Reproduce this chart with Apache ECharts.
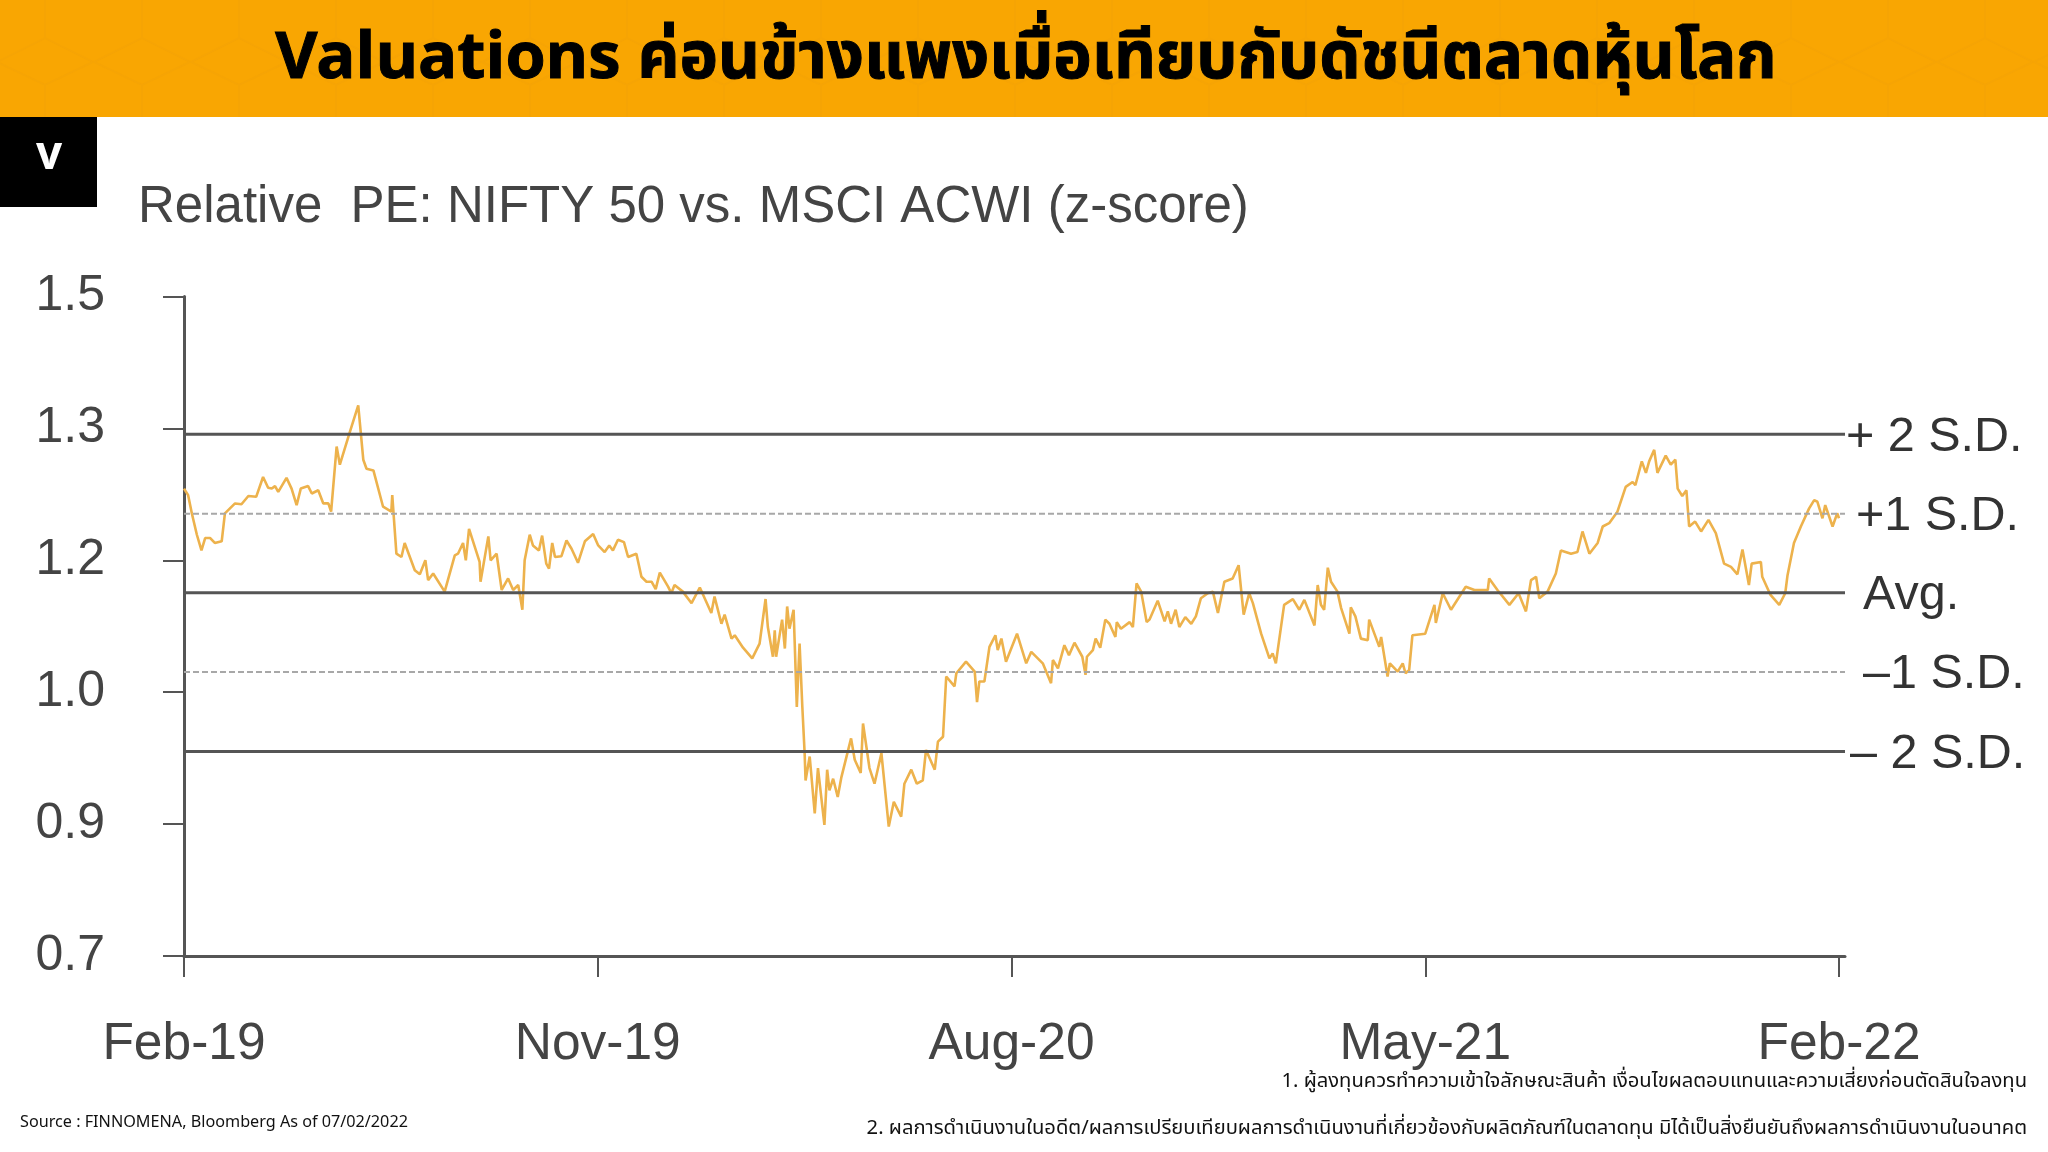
<!DOCTYPE html>
<html>
<head>
    <meta charset="utf-8">
    <title>Relative PE</title>
    <script src="https://cdn.jsdelivr.net/npm/echarts@6/dist/echarts.min.js"></script>
    <style>
        html, body { margin: 0; padding: 0; background: #fff; }
        #chart { width: 2048px; height: 1152px; }
    </style>
</head>
<body>
<div id="chart"></div>
<script type="text/javascript">
    var bannerTitle = 'Valuations ค่อนข้างแพงเมื่อเทียบกับดัชนีตลาดหุ้นโลก';
    var chartTitle = 'Relative  PE: NIFTY 50 vs. MSCI ACWI (z-score)';
    var sourceText = 'Source : FINNOMENA, Bloomberg As of 07/02/2022';
    var note1 = '1. ผู้ลงทุนควรทำความเข้าใจลักษณะสินค้า เงื่อนไขผลตอบแทนและความเสี่ยงก่อนตัดสินใจลงทุน';
    var note2 = '2. ผลการดำเนินงานในอดีต/ผลการเปรียบเทียบผลการดำเนินงานที่เกี่ยวข้องกับผลิตภัณฑ์ในตลาดทุน มิได้เป็นสิ่งยืนยันถึงผลการดำเนินงานในอนาคต';

    var xTickMonths = [0, 9, 18, 27, 36];
    var xTickLabels = ['Feb-19', 'Nov-19', 'Aug-20', 'May-21', 'Feb-22'];
    var yTickValues = [0.7, 0.86, 1.02, 1.18, 1.34, 1.5];
    var yTickLabels = ['0.7', '0.9', '1.0', '1.2', '1.3', '1.5'];

    var sdLevels = [1.3328, 1.2366, 1.1405, 1.0444, 0.9482];
    var sdNames = ['+ 2 S.D.', '+1 S.D.', 'Avg.', '–1 S.D.', '– 2 S.D.'];

    // [months since Feb-19, z-score]
    var pePoints = [
        [0.00,1.267],[0.09,1.259],[0.17,1.237],[0.28,1.211],[0.38,1.192],[0.46,1.207],[0.57,1.207],[0.67,1.201],
        [0.82,1.203],[0.89,1.237],[1.11,1.249],[1.25,1.248],[1.40,1.258],[1.57,1.257],[1.72,1.281],[1.83,1.268],
        [1.91,1.267],[1.98,1.270],[2.05,1.263],[2.23,1.280],[2.34,1.267],[2.45,1.247],[2.54,1.267],[2.70,1.270],
        [2.78,1.261],[2.92,1.265],[3.03,1.249],[3.14,1.249],[3.20,1.239],[3.32,1.318],[3.39,1.296],[3.61,1.336],
        [3.79,1.368],[3.90,1.302],[3.97,1.291],[4.12,1.289],[4.33,1.245],[4.51,1.239],[4.53,1.259],[4.62,1.188],
        [4.73,1.184],[4.80,1.201],[5.02,1.168],[5.13,1.163],[5.25,1.180],[5.31,1.156],[5.42,1.164],[5.67,1.142],
        [5.89,1.186],[5.96,1.188],[6.07,1.201],[6.13,1.180],[6.20,1.218],[6.43,1.178],[6.45,1.154],[6.62,1.209],
        [6.67,1.180],[6.80,1.188],[6.91,1.144],[7.05,1.158],[7.16,1.144],[7.27,1.150],[7.36,1.120],[7.41,1.180],
        [7.52,1.211],[7.59,1.198],[7.72,1.192],[7.79,1.210],[7.88,1.176],[7.94,1.170],[8.01,1.201],[8.07,1.184],
        [8.21,1.185],[8.32,1.204],[8.43,1.194],[8.57,1.177],[8.72,1.203],[8.90,1.212],[9.01,1.198],[9.15,1.190],
        [9.25,1.198],[9.33,1.192],[9.44,1.205],[9.57,1.202],[9.66,1.184],[9.84,1.188],[9.95,1.160],[10.06,1.154],
        [10.17,1.154],[10.26,1.145],[10.35,1.165],[10.53,1.148],[10.60,1.140],[10.67,1.150],[10.85,1.142],[11.04,1.128],
        [11.22,1.147],[11.47,1.116],[11.54,1.136],[11.69,1.103],[11.76,1.114],[11.91,1.085],[11.98,1.089],[12.16,1.074],
        [12.36,1.061],[12.52,1.079],[12.65,1.133],[12.70,1.099],[12.81,1.063],[12.85,1.095],[12.88,1.063],[13.01,1.108],
        [13.07,1.073],[13.12,1.124],[13.17,1.097],[13.26,1.120],[13.33,1.002],[13.39,1.079],[13.45,1.002],[13.50,0.946],
        [13.52,0.913],[13.61,0.942],[13.72,0.873],[13.79,0.928],[13.93,0.859],[13.99,0.926],[14.04,0.901],[14.12,0.915],
        [14.22,0.893],[14.30,0.917],[14.51,0.964],[14.59,0.938],[14.72,0.922],[14.77,0.982],[14.91,0.928],[15.02,0.909],
        [15.17,0.946],[15.33,0.857],[15.44,0.887],[15.60,0.869],[15.67,0.909],[15.82,0.926],[15.94,0.909],[16.07,0.913],
        [16.14,0.950],[16.33,0.926],[16.40,0.960],[16.51,0.966],[16.58,1.039],[16.76,1.027],[16.80,1.043],[17.01,1.057],
        [17.20,1.045],[17.25,1.008],[17.30,1.033],[17.41,1.033],[17.52,1.075],[17.65,1.089],[17.70,1.071],[17.78,1.085],
        [17.88,1.057],[18.12,1.091],[18.32,1.055],[18.43,1.069],[18.68,1.055],[18.86,1.031],[18.90,1.059],[19.01,1.049],
        [19.15,1.077],[19.25,1.065],[19.37,1.080],[19.54,1.063],[19.61,1.041],[19.64,1.063],[19.77,1.071],[19.83,1.085],
        [19.93,1.074],[20.04,1.108],[20.13,1.103],[20.26,1.087],[20.29,1.105],[20.38,1.097],[20.57,1.105],[20.64,1.099],
        [20.72,1.152],[20.82,1.142],[20.94,1.105],[21.00,1.108],[21.18,1.131],[21.33,1.106],[21.40,1.118],[21.47,1.103],
        [21.57,1.120],[21.65,1.099],[21.78,1.111],[21.91,1.103],[22.01,1.112],[22.12,1.134],[22.27,1.140],[22.38,1.142],
        [22.49,1.116],[22.63,1.154],[22.81,1.158],[22.94,1.174],[23.05,1.114],[23.17,1.140],[23.25,1.128],[23.43,1.091],
        [23.61,1.061],[23.68,1.067],[23.75,1.055],[23.93,1.126],[24.12,1.133],[24.26,1.120],[24.37,1.132],[24.59,1.101],
        [24.66,1.150],[24.73,1.126],[24.80,1.120],[24.88,1.171],[24.95,1.154],[25.09,1.142],[25.17,1.122],[25.35,1.091],
        [25.38,1.123],[25.48,1.112],[25.60,1.085],[25.75,1.083],[25.78,1.108],[26.00,1.075],[26.04,1.087],[26.18,1.039],
        [26.23,1.055],[26.40,1.045],[26.51,1.055],[26.57,1.043],[26.65,1.047],[26.72,1.089],[27.00,1.091],[27.20,1.126],
        [27.23,1.104],[27.38,1.140],[27.56,1.120],[27.88,1.148],[28.07,1.144],[28.36,1.144],[28.39,1.158],[28.57,1.144],
        [28.83,1.126],[29.03,1.140],[29.19,1.118],[29.30,1.156],[29.41,1.160],[29.48,1.134],[29.66,1.142],[29.84,1.164],
        [29.95,1.192],[30.17,1.188],[30.31,1.190],[30.42,1.215],[30.57,1.188],[30.75,1.201],[30.86,1.221],[31.00,1.225],
        [31.18,1.239],[31.36,1.269],[31.51,1.275],[31.57,1.271],[31.71,1.300],[31.80,1.286],[31.87,1.300],[31.98,1.314],
        [32.05,1.286],[32.23,1.307],[32.34,1.296],[32.44,1.302],[32.49,1.267],[32.59,1.258],[32.68,1.265],[32.74,1.221],
        [32.87,1.227],[33.00,1.215],[33.16,1.229],[33.32,1.213],[33.50,1.176],[33.65,1.172],[33.79,1.163],[33.90,1.193],
        [34.04,1.150],[34.10,1.176],[34.30,1.178],[34.33,1.160],[34.51,1.138],[34.70,1.126],[34.83,1.140],[34.88,1.162],
        [35.02,1.201],[35.17,1.221],[35.35,1.243],[35.46,1.253],[35.53,1.251],[35.64,1.231],[35.70,1.247],[35.86,1.221],
        [35.96,1.237],[36.00,1.231]
    ];

    var latin = '"Liberation Sans", Arial, sans-serif';
    var thai = '"Noto Sans Thai", "Noto Sans", "DejaVu Sans", sans-serif';
    var sdOffsets = [-7, 3, 10, 10, -3];

    var series = [{
        name: 'Relative PE',
        type: 'line',
        data: pePoints,
        showSymbol: false,
        lineStyle: { color: '#EDB24C', width: 2.6 },
        z: 2
    }];

    sdLevels.forEach(function (level, i) {
        var dashed = i === 1 || i === 3;
        series.push({
            name: sdNames[i],
            type: 'line',
            data: [[0, level], [36.13, level]],
            showSymbol: false,
            lineStyle: dashed
                ? { color: '#A8A8A8', width: 2, type: [6, 3] }
                : { color: '#555555', width: 3 },
            endLabel: {
                show: true,
                formatter: sdNames[i],
                offset: [sdOffsets[i], 3],
                fontFamily: latin,
                fontSize: 48.5,
                color: '#333333'
            },
            z: 3
        });
    });

    // faint honeycomb on the banner
    var banner = [
        { type: 'rect', shape: { x: 0, y: 0, width: 2048, height: 117 }, style: { fill: '#F9A602' }, z: 10 }
    ];
    for (var cx = 45; cx < 2100; cx += 97) {
        banner.push({
            type: 'polygon',
            shape: { points: [[cx - 48, 62], [cx, 38], [cx + 48, 62], [cx, 85]] },
            style: { fill: 'none', stroke: '#F6A404', lineWidth: 2 },
            z: 10
        });
        banner.push({ type: 'line', shape: { x1: cx, y1: 0, x2: cx, y2: 38 }, style: { stroke: '#F6A404', lineWidth: 2 }, z: 10 });
        banner.push({ type: 'line', shape: { x1: cx, y1: 85, x2: cx, y2: 117 }, style: { stroke: '#F6A404', lineWidth: 2 }, z: 10 });
    }

    var myChart = echarts.init(document.getElementById('chart'));

    var option = {
        animation: false,
        backgroundColor: '#ffffff',
        title: [
            {
                text: chartTitle,
                left: 133,
                top: 177,
                textStyle: { fontFamily: latin, fontWeight: 'normal', fontSize: 51, color: '#444444' }
            }
        ],
        grid: { left: 184, right: 203, top: 296.5, height: 659.5 },
        xAxis: {
            type: 'value',
            min: 0,
            max: 36.13,
            splitLine: { show: false },
            axisLine: { lineStyle: { color: '#555555', width: 3 } },
            axisTick: { customValues: xTickMonths, length: 21, lineStyle: { color: '#555555', width: 2 } },
            axisLabel: {
                customValues: xTickMonths,
                margin: 63,
                fontFamily: latin,
                fontSize: 51.5,
                color: '#444444',
                formatter: function (v) { return xTickLabels[xTickMonths.indexOf(v)]; }
            }
        },
        yAxis: {
            type: 'value',
            min: 0.7,
            max: 1.5,
            splitLine: { show: false },
            axisLine: { show: true, lineStyle: { color: '#555555', width: 3 } },
            axisTick: { customValues: yTickValues, length: 21, lineStyle: { color: '#555555', width: 2 } },
            axisLabel: {
                customValues: yTickValues,
                margin: 79,
                padding: [0, 0, 8, 0],
                fontFamily: latin,
                fontSize: 50,
                color: '#444444',
                formatter: function (v) { return yTickLabels[yTickValues.indexOf(v)]; }
            }
        },
        series: series,
        graphic: banner.concat([
            { type: 'rect', shape: { x: 0, y: 117, width: 97, height: 90 }, style: { fill: '#000000' }, z: 10 },
            { type: 'text', x: 49, y: 160, z: 11, style: { text: 'v', fill: '#ffffff', fontFamily: thai, fontWeight: 'bold', fontSize: 46, align: 'center', verticalAlign: 'middle' } },
            { type: 'text', x: 1026, y: 65, z: 11, style: { text: bannerTitle, fill: '#000000', stroke: '#000000', lineWidth: 1, fontFamily: thai, fontWeight: 'bold', fontSize: 65, align: 'center', verticalAlign: 'middle' } },
            { type: 'text', x: 20, y: 1124, z: 11, style: { text: sourceText, fill: '#111111', fontFamily: thai, fontSize: 16.2, verticalAlign: 'middle' } },
            { type: 'text', x: 2027, y: 1083, z: 11, style: { text: note1, fill: '#111111', fontFamily: thai, fontSize: 20.2, align: 'right', verticalAlign: 'middle' } },
            { type: 'text', x: 2027, y: 1130, z: 11, style: { text: note2, fill: '#111111', fontFamily: thai, fontSize: 20.2, align: 'right', verticalAlign: 'middle' } }
        ])
    };

    myChart.setOption(option);
</script>
</body>
</html>
